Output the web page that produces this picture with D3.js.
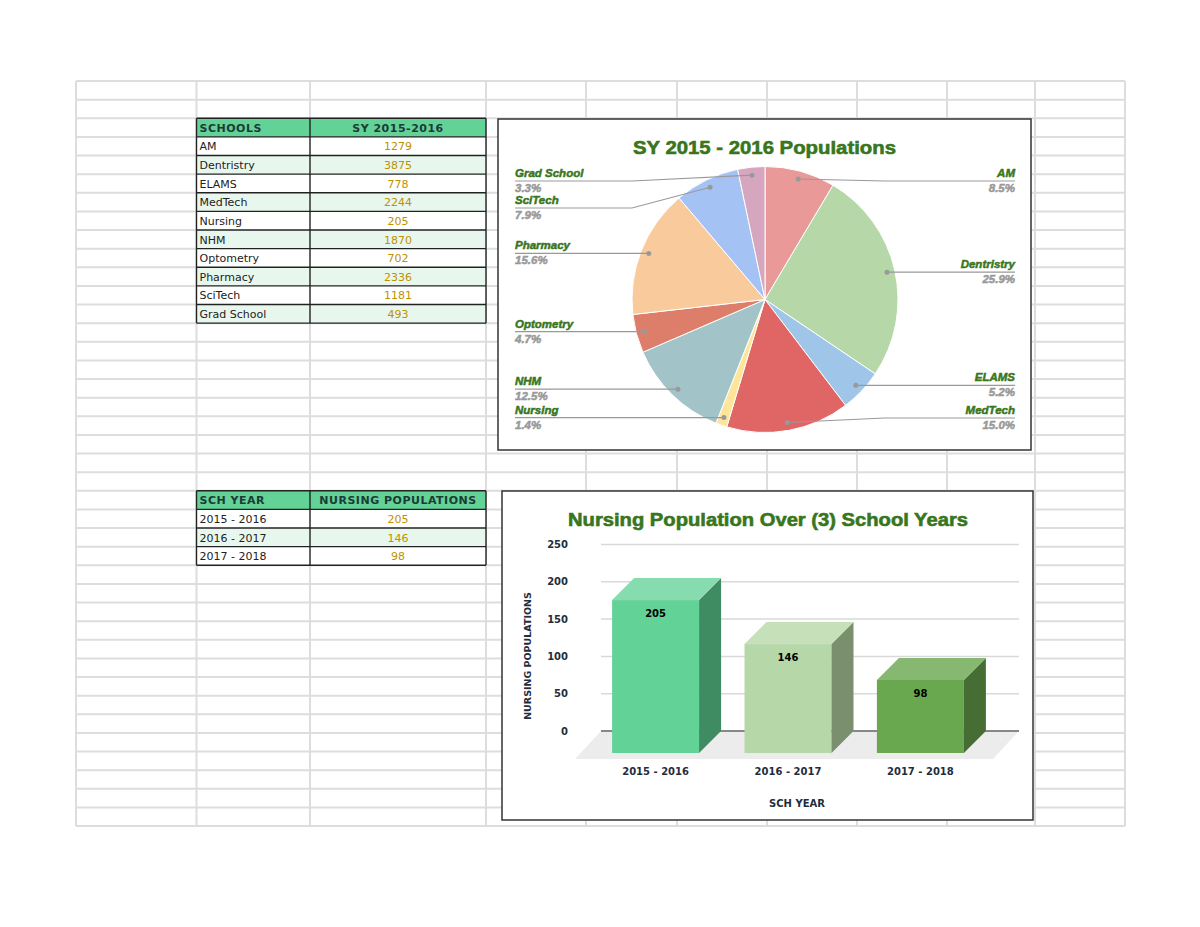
<!DOCTYPE html>
<html><head><meta charset="utf-8">
<script src="https://cdn.jsdelivr.net/npm/d3@7"></script>
<style>body{margin:0;background:#fff} svg{display:block}</style>
</head><body>
<svg id="c" width="1200" height="927"></svg>
<script>
// ---------- data ----------
const schools = ["AM","Dentristry","ELAMS","MedTech","Nursing","NHM","Optometry","Pharmacy","SciTech","Grad School"];
const populations2015 = [1279,3875,778,2244,205,1870,702,2336,1181,493];
const schoolColors = ["#ea9999","#b6d7a8","#9fc5e8","#e06666","#ffe599","#a2c4c9","#dd7e6b","#f9cb9c","#a4c2f4","#d5a6bd"];
const schYears = ["2015 - 2016","2016 - 2017","2017 - 2018"];
const nursingPopulations = [205,146,98];
const barFront = ["#63d297","#b6d7a8","#6aa84f"];
const barSide  = ["#3f8c63","#7a8f6e","#466e34"];
const barTop   = ["#86dcae","#c6e0b9","#87b872"];
const yTicks = [0,50,100,150,200,250];
const table1Headers = ["SCHOOLS","SY 2015-2016"];
const table2Headers = ["SCH YEAR","NURSING POPULATIONS"];

const svg = d3.select("#c");
const colX = [76,196.5,310,486,586,677,767,857,947,1035,1125];
const rowY = d3.range(41).map(i => 81 + i*18.625);

// ---------- sheet grid ----------
const grid = svg.append("g");
grid.selectAll("line.v").data(colX).join("line")
  .attr("x1", d=>d).attr("x2", d=>d).attr("y1", rowY[0]).attr("y2", rowY[40])
  .attr("stroke","#dddddd").attr("stroke-width",2);
grid.selectAll("line.h").data(rowY).join("line")
  .attr("x1", colX[0]).attr("x2", colX[10]).attr("y1", d=>d).attr("y2", d=>d)
  .attr("stroke","#dddddd").attr("stroke-width",2);

// ---------- tables ----------
function drawTable(startRow, headers, names, values) {
  const g = svg.append("g");
  const x0 = colX[1], x1 = colX[2], x2 = colX[3];
  const n = names.length;
  // header
  g.append("rect").attr("x",x0).attr("y",rowY[startRow]).attr("width",x2-x0).attr("height",rowY[startRow+1]-rowY[startRow]).attr("fill","#63d297");
  names.forEach((nm,i)=>{
    const r = startRow+1+i;
    g.append("rect").attr("x",x0).attr("y",rowY[r]).attr("width",x2-x0).attr("height",rowY[r+1]-rowY[r])
      .attr("fill", i%2===1 ? "#e8f7ee" : "#ffffff");
    g.append("text").attr("x",x0+3).attr("y",rowY[r]+13.5).text(nm)
      .attr("font-family","DejaVu Sans").attr("font-size",11).attr("fill","#222");
    g.append("text").attr("x",(x1+x2)/2).attr("y",rowY[r]+13.5).text(values[i])
      .attr("text-anchor","middle").attr("font-family","DejaVu Sans").attr("font-size",11).attr("fill","#bf9000");
  });
  g.append("text").attr("x",x0+3).attr("y",rowY[startRow]+13.5).text(headers[0])
    .attr("font-family","DejaVu Sans").attr("font-weight","bold").attr("font-size",11).attr("letter-spacing",0.5).attr("fill","#1d3b36");
  g.append("text").attr("x",(x1+x2)/2).attr("y",rowY[startRow]+13.5).text(headers[1])
    .attr("text-anchor","middle").attr("font-family","DejaVu Sans").attr("font-weight","bold").attr("font-size",11).attr("letter-spacing",0.5).attr("fill","#1d3b36");
  // borders
  d3.range(startRow, startRow+n+2).forEach(r=>{
    g.append("line").attr("x1",x0).attr("x2",x2).attr("y1",rowY[r]).attr("y2",rowY[r]).attr("stroke","#222").attr("stroke-width",1.4);
  });
  [x0,x1,x2].forEach(x=>{
    g.append("line").attr("x1",x).attr("x2",x).attr("y1",rowY[startRow]).attr("y2",rowY[startRow+n+1]).attr("stroke","#222").attr("stroke-width",1.4);
  });
}
drawTable(2, table1Headers, schools, populations2015);
drawTable(22, table2Headers, schYears, nursingPopulations);

// ---------- pie chart ----------
const pieBox = {x:498, y:119, w:533, h:331};
svg.append("rect").attr("x",pieBox.x).attr("y",pieBox.y).attr("width",pieBox.w).attr("height",pieBox.h)
  .attr("fill","#fff").attr("stroke","#333").attr("stroke-width",1.5);
svg.append("text").attr("x",pieBox.x+pieBox.w/2).attr("y",154).text("SY 2015 - 2016 Populations")
  .attr("text-anchor","middle").attr("font-family","Liberation Sans, Arial").attr("font-weight","bold").attr("font-size",19)
  .attr("textLength",263).attr("lengthAdjust","spacingAndGlyphs")
  .attr("fill","#38761d").attr("stroke","#38761d").attr("stroke-width",0.6);

const cx = 765, cy = 299.5, R = 133;
const pieG = svg.append("g").attr("transform",`translate(${cx},${cy})`);
const pie = d3.pie().sort(null).value(d=>d.v);
const arcs = pie(schools.map((s,i)=>({name:s, v:populations2015[i], color:schoolColors[i]})));
const arc = d3.arc().innerRadius(0).outerRadius(R);
pieG.selectAll("path").data(arcs).join("path").attr("d",arc).attr("fill",d=>d.data.color)
  .attr("stroke","#fff").attr("stroke-width",1);

const total = d3.sum(populations2015);
const dotArc = d3.arc().innerRadius(125).outerRadius(125);
const labels = arcs.map(a=>{
  const [dx,dy] = dotArc.centroid(a);
  const mid = (a.startAngle+a.endAngle)/2;
  return {a, dx:cx+dx, dy:cy+dy, right: mid < Math.PI, ly: Math.max(181, Math.min(418, cy+dy)),
          pct: (a.data.v/total*100).toFixed(1)+"%"};
});
// resolve overlaps per side
[true,false].forEach(side=>{
  const ls = labels.filter(l=>l.right===side).sort((p,q)=>p.ly-q.ly);
  for (let i=1;i<ls.length;i++) if (ls[i].ly < ls[i-1].ly+27) ls[i].ly = ls[i-1].ly+27;
});
const lg = svg.append("g");
labels.forEach(l=>{
  const endX = l.right ? 1015 : 515;
  const elbowX = l.right ? cx + 0.9*R : cx - R;
  const pts = [[l.dx,l.dy]];
  if ((l.right && l.dx < elbowX) || (!l.right && l.dx > elbowX)) pts.push([elbowX,l.ly]);
  pts.push([endX,l.ly]);
  lg.append("path").attr("d",d3.line()(pts)).attr("fill","none").attr("stroke","#999").attr("stroke-width",1.2);
  lg.append("circle").attr("cx",l.dx).attr("cy",l.dy).attr("r",2.5).attr("fill","#999");
  lg.append("text").attr("x",endX).attr("y",l.ly-4).text(l.a.data.name)
    .attr("text-anchor",l.right?"end":"start").attr("font-family","Liberation Sans, Arial")
    .attr("font-weight","bold").attr("font-style","italic").attr("font-size",11.5)
    .attr("fill","#38761d").attr("stroke","#38761d").attr("stroke-width",0.5);
  lg.append("text").attr("x",endX).attr("y",l.ly+11).text(l.pct)
    .attr("text-anchor",l.right?"end":"start").attr("font-family","Liberation Sans, Arial")
    .attr("font-weight","bold").attr("font-style","italic").attr("font-size",11.5)
    .attr("fill","#999").attr("stroke","#999").attr("stroke-width",0.5);
});

// ---------- 3D bar chart ----------
const barBox = {x:502, y:491, w:531, h:329};
svg.append("rect").attr("x",barBox.x).attr("y",barBox.y).attr("width",barBox.w).attr("height",barBox.h)
  .attr("fill","#fff").attr("stroke","#333").attr("stroke-width",1.5);
svg.append("text").attr("x",768).attr("y",526).text("Nursing Population Over (3) School Years")
  .attr("text-anchor","middle").attr("font-family","Liberation Sans, Arial").attr("font-weight","bold").attr("font-size",19)
  .attr("textLength",400).attr("lengthAdjust","spacingAndGlyphs")
  .attr("fill","#38761d").attr("stroke","#38761d").attr("stroke-width",0.6);

const depth = 22;
const x = d3.scaleBand().domain(schYears).range([601,1019]).paddingInner(0.343).paddingOuter(0.25);
const y = d3.scaleLinear().domain([0,250]).range([731,544.5]);
const bg = svg.append("g");
// floor
bg.append("polygon").attr("points",[[601,y(0)],[1019,y(0)],[1019-26,y(0)+28],[601-26,y(0)+28]].map(p=>p.join(",")).join(" "))
  .attr("fill","#ececec");
// gridlines
bg.selectAll("line.g").data(yTicks.filter(t=>t>0)).join("line")
  .attr("x1",601).attr("x2",1019).attr("y1",d=>y(d)).attr("y2",d=>y(d)).attr("stroke","#d9d9d9").attr("stroke-width",1.5);
bg.append("line").attr("x1",601).attr("x2",1019).attr("y1",y(0)).attr("y2",y(0)).attr("stroke","#888").attr("stroke-width",2);
// y tick labels
bg.selectAll("text.yt").data(yTicks).join("text")
  .attr("x",568).attr("y",d=>y(d)).attr("dy","0.35em").attr("text-anchor","end").text(d=>d)
  .attr("font-family","DejaVu Sans").attr("font-weight","bold").attr("font-size",10).attr("fill","#1f2d3d");
// bars
schYears.forEach((yr,i)=>{
  const v = nursingPopulations[i];
  const bw = x.bandwidth();
  const fx = x(yr) - depth, fy = y(v) + depth, fb = y(0) + depth;
  bg.append("rect").attr("x",fx).attr("y",fy).attr("width",bw).attr("height",fb-fy).attr("fill",barFront[i]);
  bg.append("polygon").attr("points",[[fx+bw,fy],[fx+bw+depth,fy-depth],[fx+bw+depth,fb-depth],[fx+bw,fb]].map(p=>p.join(",")).join(" "))
    .attr("fill",barSide[i]);
  bg.append("polygon").attr("points",[[fx,fy],[fx+depth,fy-depth],[fx+bw+depth,fy-depth],[fx+bw,fy]].map(p=>p.join(",")).join(" "))
    .attr("fill",barTop[i]);
  bg.append("text").attr("x",fx+bw/2).attr("y",fy+17).attr("text-anchor","middle").text(v)
    .attr("font-family","DejaVu Sans").attr("font-weight","bold").attr("font-size",10).attr("fill","#000");
  bg.append("text").attr("x",fx+bw/2).attr("y",775).attr("text-anchor","middle").text(yr)
    .attr("font-family","DejaVu Sans").attr("font-weight","bold").attr("font-size",10).attr("fill","#1f2d3d");
});
bg.append("text").attr("x",797).attr("y",807).attr("text-anchor","middle").text("SCH YEAR")
  .attr("font-family","DejaVu Sans").attr("font-weight","bold").attr("font-size",10).attr("fill","#1f2d3d");
bg.append("text").attr("transform","translate(531,656) rotate(-90)").attr("text-anchor","middle").text("NURSING POPULATIONS")
  .attr("font-family","DejaVu Sans").attr("font-weight","bold").attr("font-size",9.5).attr("fill","#1f2d3d");
</script>
</body></html>
